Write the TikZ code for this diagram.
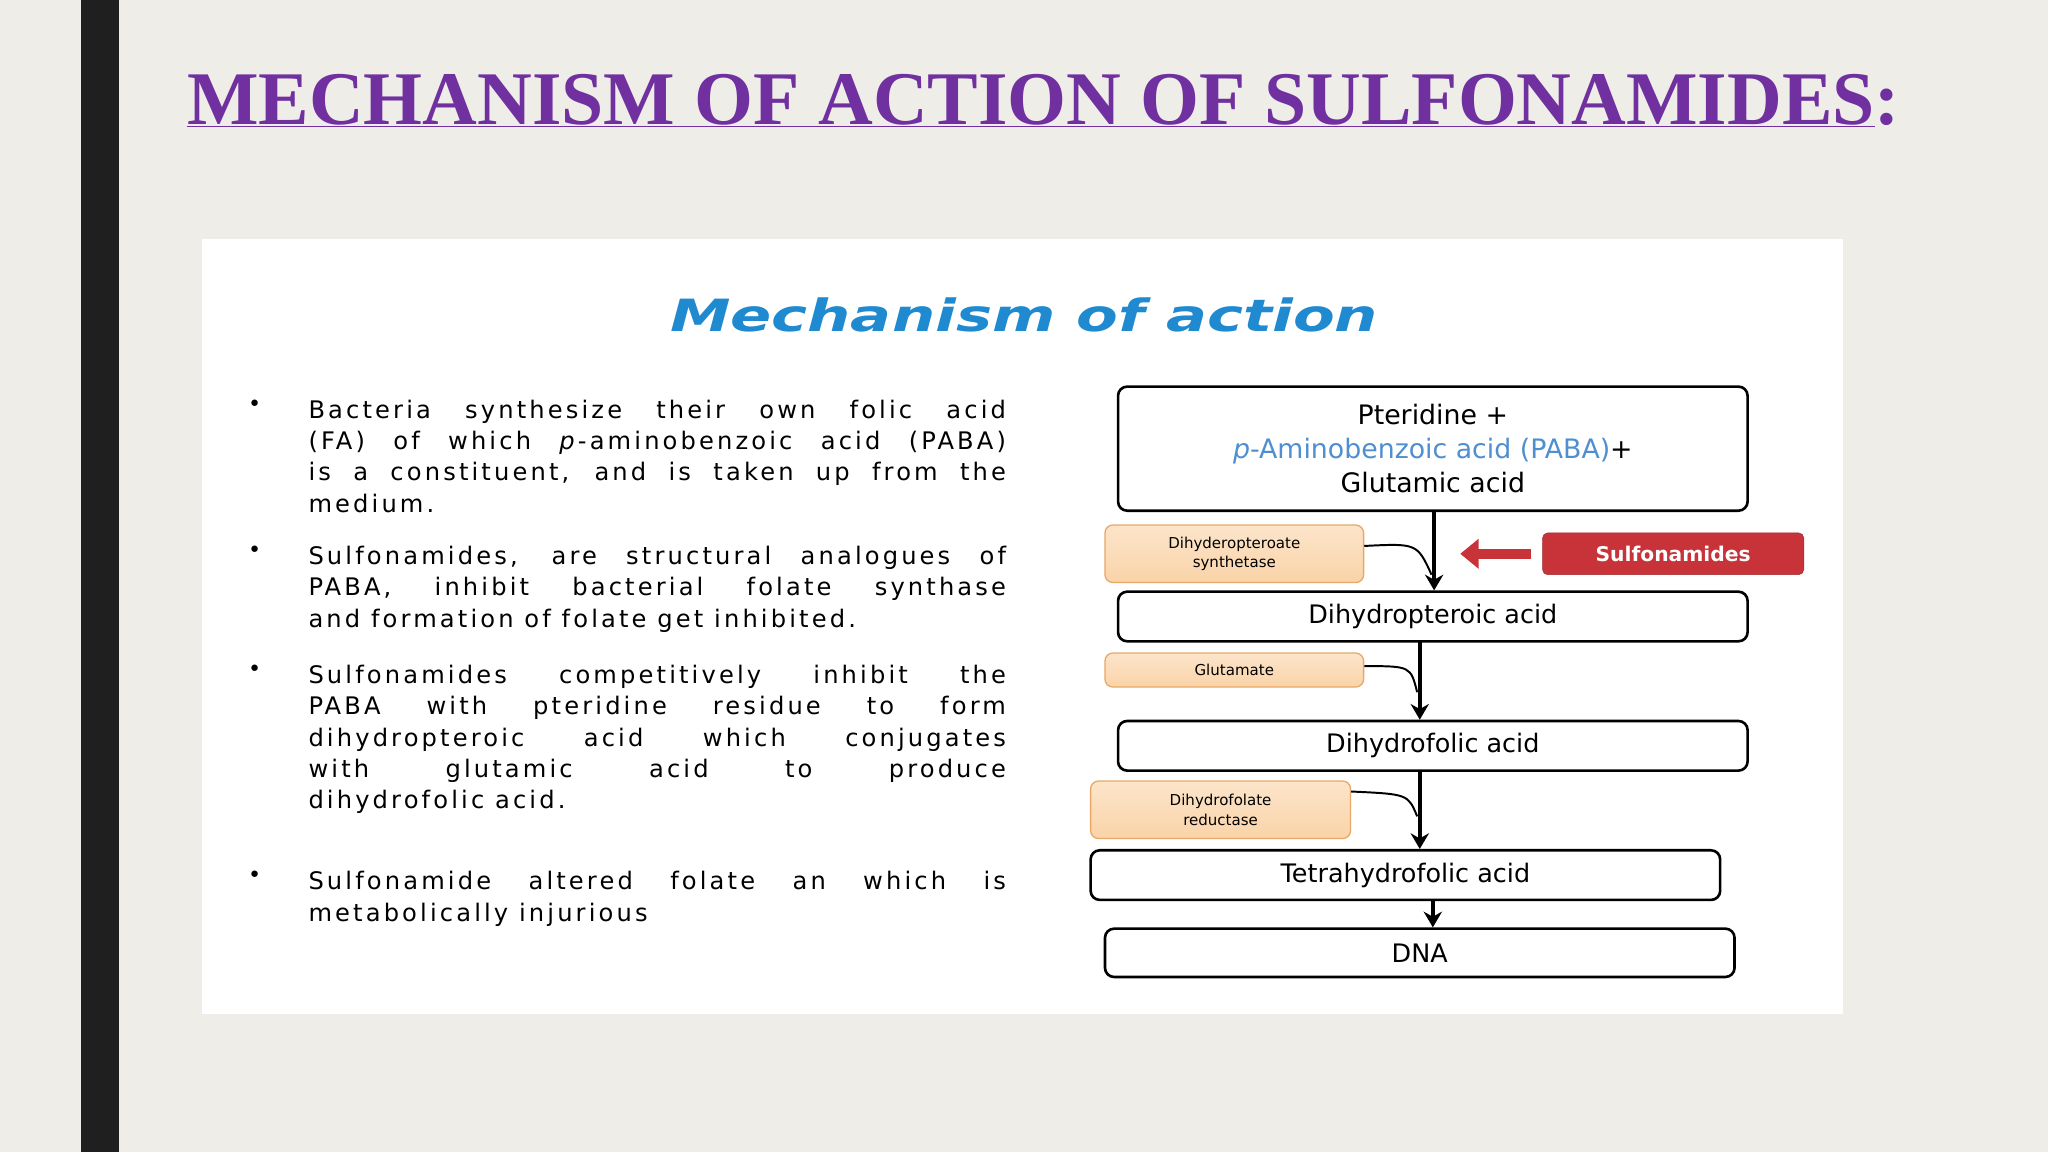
\documentclass[tikz,border=0pt]{standalone}
\usepackage{fontspec}
\setmainfont{DejaVu Sans}
\newfontfamily\titlefont{Liberation Serif}
\newfontfamily\bulfont[LetterSpace=13]{DejaVu Sans}
\usetikzlibrary{arrows.meta}
\definecolor{bg}{HTML}{EFEDE8}
\definecolor{ttl}{HTML}{7030A0}
\definecolor{mblue}{HTML}{1F8AD0}
\definecolor{pblue}{HTML}{4F8FD0}
\definecolor{org}{HTML}{FAD3A8}
\definecolor{orgd}{HTML}{E8A868}
\definecolor{sred}{HTML}{C8333A}
\tikzset{
 flow/.style={draw=black,line width=2pt,rounded corners=7pt,fill=white,inner sep=0pt,font=\fontsize{19.5}{25}\selectfont},
 enz/.style={draw=orgd,line width=1pt,rounded corners=6pt,top color=org!60!white,bottom color=org,inner sep=0pt,align=center,font=\fontsize{11.5}{15}\selectfont},
 dar/.style={line width=3pt,-{Stealth[length=12pt,width=14pt]}},
 bul/.style={anchor=north west,text width=534pt,align=justify,inner sep=0pt,font=\bulfont\fontsize{18.5}{24}\selectfont},
 dot/.style={anchor=north,inner sep=0pt,font=\fontsize{17}{24}\selectfont}
}
\begin{document}
\begin{tikzpicture}[x=1pt,y=-1pt]
\fill[bg] (0,0) rectangle (1568,882);
\useasboundingbox (0,0) rectangle (1568,882);
\fill[black!88] (62,0) rectangle (91,882);
\node[anchor=base west,inner sep=0pt,text=ttl,font=\titlefont\bfseries\fontsize{58}{60}\selectfont] (title) at (143,95) {\underline{MECHANISM OF ACTION OF SULFONAMIDES}:};
\fill[white] (155,183) rectangle (1411,776);
\node[text=mblue,inner sep=0pt] (sub) at (784,241) {\resizebox{542pt}{\height}{\bfseries\itshape\fontsize{34}{36}\selectfont Mechanism of action}};
\node[bul] (b1) at (236,306) {Bacteria synthesize their own folic acid\linebreak (FA) of which \emph{p}-aminobenzoic acid (PABA)\linebreak is a constituent, and is taken up from the\linebreak medium.};
\node[bul] (b2) at (236,418) {Sulfonamides, are structural analogues of\linebreak PABA, inhibit bacterial folate synthase\linebreak and formation of folate get inhibited.};
\node[bul] (b3) at (236,509) {Sulfonamides competitively inhibit the\linebreak PABA with pteridine residue to form\linebreak dihydropteroic acid which conjugates\linebreak with glutamic acid to produce\linebreak dihydrofolic acid.};
\node[bul] (b4) at (236,667) {Sulfonamide altered folate an which is\linebreak metabolically injurious};
\foreach \y/\n in {306/d1,418/d2,509/d3,667/d4} \node[dot] (\n) at (195,\y) {•};
\node[flow,minimum width=482pt,minimum height=95pt,align=center,font=\fontsize{20.5}{26}\selectfont] (p) at (1097,343.5) {Pteridine +\\{\color{pblue}\emph{p}-Aminobenzoic acid (PABA)}+\\Glutamic acid};
\node[flow,minimum width=482pt,minimum height=38pt] (dpa) at (1097,472) {Dihydropteroic acid};
\node[flow,minimum width=482pt,minimum height=38pt] (dfa) at (1097,571) {Dihydrofolic acid};
\node[flow,minimum width=482pt,minimum height=38pt] (tfa) at (1076,670) {Tetrahydrofolic acid};
\node[flow,minimum width=482pt,minimum height=37pt] (dna) at (1087,729.5) {DNA};
\node[enz,minimum width=198pt,minimum height=44pt] (e1) at (945,424) {Dihyderopteroate\\synthetase};
\node[enz,minimum width=198pt,minimum height=26pt] (e2) at (945,513) {Glutamate};
\node[enz,minimum width=199pt,minimum height=44pt] (e3) at (934.5,620) {Dihydrofolate\\reductase};
\node[draw=sred!80!black,fill=sred,rounded corners=4pt,minimum width=200pt,minimum height=32pt,inner sep=0pt,text=white,font=\bfseries\fontsize{15.5}{20}\selectfont] (sul) at (1281,424) {Sulfonamides};
\draw[dar] (1098,391) -- (1098,452);
\draw[dar] (1087,491) -- (1087,551);
\draw[dar] (1087,590) -- (1087,650);
\draw[dar] (1097,689) -- (1097,710);
\draw[line width=1.5pt] (e1.east) ++(0,-6) .. controls (1085,416) .. (1096,440);
\draw[line width=1.5pt] (e2.east) ++(0,-3) .. controls (1080,510) .. (1085,530);
\draw[line width=1.5pt] (e3.east) ++(0,-14) .. controls (1078,608) .. (1085,625);
\draw[sred,line width=8pt,-{Triangle[length=14pt,width=22pt]}] (sul.west) ++(-9,0) -- (1118,424);
\end{tikzpicture}
\end{document}
